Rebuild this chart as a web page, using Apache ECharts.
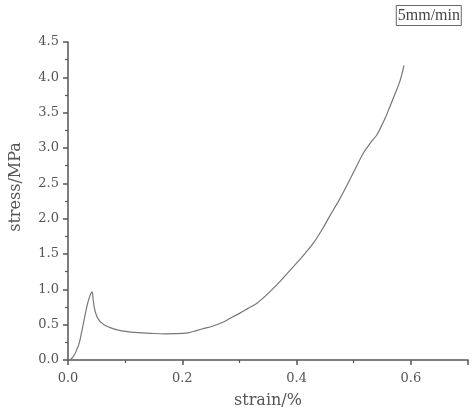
<!DOCTYPE html>
<html><head><meta charset="utf-8">
<script src="https://cdn.jsdelivr.net/npm/echarts@6/dist/echarts.min.js"></script>
<style>html,body{margin:0;padding:0;background:#fff}#c{width:474px;height:414px}</style>
</head><body><div id="c"></div>
<script>
const strain = [0, 0.005, 0.011, 0.016, 0.02, 0.024, 0.028, 0.031, 0.034, 0.038, 0.042, 0.044, 0.046, 0.049, 0.052, 0.057, 0.063, 0.07, 0.08, 0.092, 0.11, 0.13, 0.15, 0.17, 0.19, 0.21, 0.226, 0.24, 0.25, 0.27, 0.284, 0.3, 0.313, 0.33, 0.342, 0.36, 0.372, 0.383, 0.4, 0.415, 0.43, 0.445, 0.459, 0.475, 0.488, 0.503, 0.517, 0.53, 0.54, 0.546, 0.555, 0.563, 0.572, 0.581, 0.588];
const stress = [0, 0.01, 0.07, 0.16, 0.25, 0.4, 0.56, 0.68, 0.79, 0.9, 0.965, 0.86, 0.74, 0.65, 0.59, 0.54, 0.5, 0.47, 0.44, 0.415, 0.395, 0.385, 0.375, 0.37, 0.372, 0.385, 0.42, 0.45, 0.47, 0.53, 0.59, 0.66, 0.72, 0.8, 0.88, 1.02, 1.12, 1.22, 1.37, 1.51, 1.66, 1.85, 2.05, 2.27, 2.47, 2.71, 2.93, 3.08, 3.18, 3.27, 3.42, 3.58, 3.76, 3.95, 4.17];
const legendText = '5mm/min';
const xName = 'strain/%';
const yName = 'stress/MPa';

const font = 'DejaVu Serif';
const chart = echarts.init(document.getElementById('c'));
chart.setOption({
  animation: false,
  backgroundColor: '#fff',
  title: {
    text: legendText, right: 12, top: 5,
    borderColor: '#666', borderWidth: 1, padding: [3, 2, 2, 2],
    textStyle: {fontFamily: 'Liberation Serif', fontSize: 16, fontWeight: 'normal', color: '#444'}
  },
  grid: {left: 67, right: 6, top: 42, bottom: 51},
  xAxis: {
    type: 'value', min: 0, max: 0.7, interval: 0.2,
    name: xName, nameLocation: 'middle', nameGap: 33,
    nameTextStyle: {fontFamily: font, fontSize: 16, color: '#555'},
    axisLine: {show: true, lineStyle: {color: '#555', width: 1.5}},
    axisTick: {show: true, length: 5, lineStyle: {color: '#555', width: 1.5}},
    minorTick: {show: true, splitNumber: 2, length: 3, lineStyle: {color: '#555', width: 1.2}},
    axisLabel: {fontFamily: font, fontSize: 13, color: '#555', margin: 12, showMaxLabel: false,
      formatter: v => v.toFixed(1)},
    splitLine: {show: false}
  },
  yAxis: {
    type: 'value', min: 0, max: 4.5, interval: 0.5,
    name: yName, nameLocation: 'middle', nameGap: 44, nameRotate: 90,
    nameTextStyle: {fontFamily: font, fontSize: 16, color: '#555', padding: [0, 0, 0, 28]},
    axisLine: {show: true, lineStyle: {color: '#555', width: 1.5}},
    axisTick: {show: true, length: 5, lineStyle: {color: '#555', width: 1.5}},
    minorTick: {show: true, splitNumber: 2, length: 3, lineStyle: {color: '#555', width: 1.2}},
    axisLabel: {fontFamily: font, fontSize: 13, color: '#555', margin: 9,
      formatter: v => v.toFixed(1)},
    splitLine: {show: false}
  },
  series: [{
    type: 'line', smooth: 0.35, showSymbol: false,
    data: strain.map((s, i) => [s, stress[i]]),
    lineStyle: {color: '#777', width: 1.2}
  }]
});
</script></body></html>
